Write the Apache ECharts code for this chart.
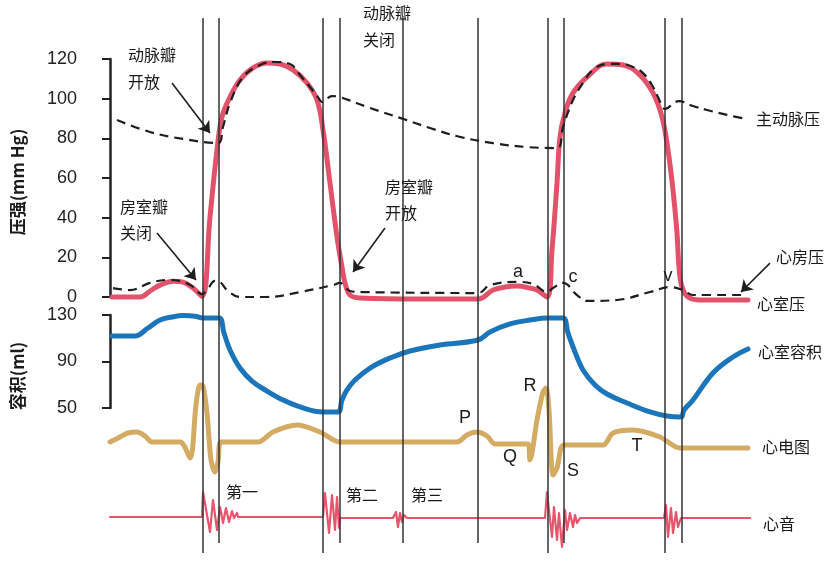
<!DOCTYPE html>
<html><head><meta charset="utf-8">
<script src="https://cdn.jsdelivr.net/npm/echarts@6/dist/echarts.min.js"></script>
<style>html,body{margin:0;padding:0;background:#fff}#c{width:838px;height:563px}</style>
</head><body><div id="c"></div>
<script>
// time unit (x) ~ arbitrary ms-like units; pressure in mm Hg; volume in ml
const pressureTicks = [0, 20, 40, 60, 80, 100, 120];
const volumeTicks = [50, 90, 130];
const ventricularPressure = [[2,0],[30,0],[40,3],[50,6],[63,8],[73,7.5],[83,4.5],[92,0.3],[100,40.3],[107,74.1],[112,90.8],[120,100.8],[130,109.4],[143,115.5],[157,118],[170,117.5],[183,114.5],[197,107.9],[207,99.3],[213,84.2],[220,57.5],[227,30.3],[232,15.1],[235,7.1],[240,1],[250,-0.5],[310,-1],[368,-1],[383,3.5],[395,5],[407,5.5],[420,4.5],[427,3.5],[437,0],[442,23.7],[447,57.5],[450,80.7],[455,92.8],[463,102.9],[477,110.9],[497,117.5],[513,117],[530,111.9],[543,102.9],[552,90.8],[558,74.1],[563,54],[567,32.3],[569,15.1],[572,5],[578,0],[590,-1.5],[638,-1.5]];
const aorticPressure = [[7,89.2],[40,83.2],[73,79.7],[108,77.6],[113,85.7],[120,97.8],[133,110.9],[150,117],[165,118.5],[180,117.5],[190,111.9],[200,105.9],[208,100.8],[212,98.3],[222,101.3],[230,100.8],[260,95.3],[290,90.3],[320,85.2],[350,80.7],[383,77.6],[417,75.6],[447,75.1],[453,85.7],[463,99.3],[473,107.9],[483,114.5],[497,117.5],[510,117.5],[523,116],[533,112.9],[542,106.9],[548,100.8],[555,94.8],[569,98.8],[583,96.3],[597,94.3],[617,91.8],[637,89.7]];
const atrialPressure = [[3,4.5],[20,3.5],[40,7.1],[57,8.6],[70,8.1],[82,5.5],[92,1.5],[97,3.5],[105,8.1],[110,7.6],[117,3.5],[130,0],[157,0],[190,2.5],[223,6],[230,7.1],[235,5],[240,3],[250,2.5],[368,2],[380,6],[407,7.6],[423,6.6],[437,2.5],[443,4.5],[453,7.1],[467,1],[477,-2],[507,-1.5],[540,2.5],[560,5],[573,3.5],[583,1],[637,1]];
const ventricularVolume = [[2,111.9],[25,111.9],[38,118.8],[50,125.7],[62,128.3],[73,129.5],[85,129],[93,127.4],[109,127.4],[114,114.5],[120,99.9],[130,84.4],[142,73.2],[157,64.6],[173,56.9],[190,50.9],[213,46.6],[228,46.6],[232,56.9],[237,65.5],[245,74.1],[260,84.4],[280,93],[300,99],[330,104.2],[368,108.5],[380,115.4],[400,122.3],[420,125.7],[438,127.4],[453,127.4],[458,114.5],[465,98.2],[473,82.7],[485,69.8],[497,62],[517,54.3],[540,46.6],[557,43.1],[571,42.3],[574,48.3],[583,56.9],[603,80.1],[623,93.9],[638,100.8]];
const ecg = [[0,0],[10,0.1],[18,0.18],[27,0.2],[35,0.12],[42,0],[70,0],[80,-0.32],[86,0.74],[90,1.14],[93,1.12],[97,0.58],[101,-0.36],[105,-0.6],[108,-0.4],[111,0],[148,0],[163,0.2],[187,0.34],[210,0.2],[230,0],[347,0],[357,0.14],[367,0.2],[377,0.12],[385,-0.04],[418,-0.04],[420,-0.36],[427,0.44],[433,1.0],[436,1.08],[439,0.64],[443,-0.66],[447,-0.52],[451,-0.12],[454,-0.06],[493,-0.06],[503,0.18],[523,0.24],[550,0.1],[570,-0.12],[638,-0.12]];
const heartSound = [[0,0],[92,0],[93,1],[100,-0.6],[103,0.68],[107,-0.52],[110,0.4],[113,-0.24],[116,0.36],[119,-0.2],[122,0.24],[124,-0.04],[127,0.16],[128,0],[213,0],[215,0.96],[219,-0.64],[222,0.88],[225,-0.52],[227,0.8],[229,-0.44],[230,-0.04],[283,-0.04],[286,0.2],[288,-0.4],[290,0.16],[292,-0.2],[294,0.08],[297,-0.04],[435,-0.04],[437,1],[442,-0.8],[444,0.4],[447,-0.92],[449,0.16],[452,-1.2],[455,0.28],[457,-0.52],[460,0.16],[463,-0.4],[465,0.08],[467,-0.24],[470,-0.04],[554,-0.04],[556,0.48],[558,-0.8],[561,0.36],[563,-0.64],[566,0.2],[568,-0.4],[571,-0.04],[640,-0.04]];
// phase boundaries (time) and relative extents of the vertical guide lines
const phaseLines = [93,109,213,230,293,368,438,454,555,572];
const phaseLineBottom = [0,0.0187,0,0.0187,0.0187,0.0187,0,0.0187,0,0.0187];
// arrows [fromTime, fromPressure, toTime, toPressure]
const arrows = [[62,107.9,100,82.7],[47,32.3,86,8.6],[267,123.5,221,102.4],[275,34.8,243,12.6],[660,17.1,631,2.5]];

const CJK = '"Noto Sans CJK SC","Noto Sans",sans-serif';
const LAT = '"Liberation Sans",Arial,sans-serif';
const RED = '#E2526A', BLUE = '#1B75BB', TAN = '#D4AB63', INK = '#1e1e1e';

const chart = echarts.init(document.getElementById('c'), null, {renderer:'canvas'});
const gridBase = {left:93, right:0};
const grids = [
  Object.assign({top:59, height:238}, gridBase),
  Object.assign({top:315, height:93}, gridBase),
  Object.assign({top:372, height:110}, gridBase),
  Object.assign({top:479.5, height:75}, gridBase),
  Object.assign({top:18, height:535}, gridBase)
];
const xAxes = grids.map((g,i)=>({type:'value', gridIndex:i, min:-17, max:728, show:false}));
const axisCommon = {
  type:'value', position:'left',
  axisLine:{show:true, lineStyle:{color:'#222', width:2.5}},
  axisTick:{show:true, inside:false, length:8, lineStyle:{color:'#222', width:2}},
  axisLabel:{fontSize:18, color:'#222', margin:16, fontFamily:LAT},
  splitLine:{show:false}
};
const yAxes = [
  Object.assign({}, axisCommon, {gridIndex:0, min:pressureTicks[0], max:pressureTicks[pressureTicks.length-1], interval:pressureTicks[1]-pressureTicks[0]}),
  Object.assign({}, axisCommon, {gridIndex:1, min:volumeTicks[0], max:volumeTicks[volumeTicks.length-1], interval:volumeTicks[1]-volumeTicks[0]}),
  {type:'value', gridIndex:2, min:-0.8, max:1.4, show:false},
  {type:'value', gridIndex:3, min:-1.5, max:1.5, show:false},
  {type:'value', gridIndex:4, min:0, max:1, show:false}
];

function lineSeries(name, data, gi, color, width, extra){
  return Object.assign({
    name, type:'line', data, xAxisIndex:gi, yAxisIndex:gi, showSymbol:false, symbol:'none',
    clip:false, smooth:0.4, z:3,
    lineStyle:{color, width, cap:'round', join:'round'}
  }, extra||{});
}
const DASH = [9,6];

const series = [
  {type:'line', xAxisIndex:4, yAxisIndex:4, data:[], z:1, silent:true,
   markLine:{silent:true, symbol:['none','none'], animation:false, label:{show:false},
     lineStyle:{color:'#333', width:1.5, type:'solid'},
     data: phaseLines.map((t,i)=>[{coord:[t,1]},{coord:[t,phaseLineBottom[i]]}])}},
  lineSeries('心室压', ventricularPressure, 0, RED, 5, {z:4}),
  lineSeries('主动脉压', aorticPressure, 0, INK, 2.2, {z:5,
    lineStyle:{color:INK, width:2.2, type:DASH},
    markLine:{silent:true, symbol:['none','arrow'], symbolSize:11, animation:false, label:{show:false},
      lineStyle:{color:INK, width:1.6, type:'solid'},
      data: arrows.map(a=>[{coord:[a[0],a[1]]},{coord:[a[2],a[3]]}])}}),
  lineSeries('心房压', atrialPressure, 0, INK, 2.2, {z:5, lineStyle:{color:INK, width:2.2, type:DASH}}),
  lineSeries('心室容积', ventricularVolume, 1, BLUE, 5),
  lineSeries('心电图', ecg, 2, TAN, 5, {smooth:0.3}),
  lineSeries('心音', heartSound, 3, '#E5566C', 2.2, {smooth:false})
];

function txt(text, x, y, size, font, align){
  return {type:'text', x, y, z:10, style:{text, font:(size||16)+'px '+(font||CJK), fill:'#1a1a1a', textAlign:align||'left', textVerticalAlign:'middle'}};
}
const graphic = [
  {type:'text', x:18, y:182, rotation:Math.PI/2, z:10, style:{text:'压强(mm Hg)', font:'bold 17px '+CJK, fill:'#1a1a1a', textAlign:'center', textVerticalAlign:'middle'}},
  {type:'text', x:18, y:376, rotation:Math.PI/2, z:10, style:{text:'容积(ml)', font:'bold 17px '+CJK, fill:'#1a1a1a', textAlign:'center', textVerticalAlign:'middle'}},
  txt('动脉瓣',128,55), txt('开放',128,82),
  txt('房室瓣',120,207), txt('关闭',120,233),
  txt('动脉瓣',363,13), txt('关闭',363,40),
  txt('房室瓣',385,187), txt('开放',385,213),
  txt('主动脉压',756,119), txt('心房压',776,257), txt('心室压',757,304),
  txt('心室容积',758,352), txt('心电图',762,447), txt('心音',763,524),
  txt('第一',226,492), txt('第二',346,495), txt('第三',411,495),
  txt('P',465,418,18,LAT,'center'), txt('Q',510,457,18,LAT,'center'), txt('R',530,386,18,LAT,'center'),
  txt('S',573,471,18,LAT,'center'), txt('T',637,446,18,LAT,'center'),
  txt('a',518,272,18,LAT,'center'), txt('c',573,277,18,LAT,'center'), txt('v',668,276,18,LAT,'center')
];

chart.setOption({animation:false, backgroundColor:'#fff', grid:grids, xAxis:xAxes, yAxis:yAxes, series, graphic});
</script></body></html>
